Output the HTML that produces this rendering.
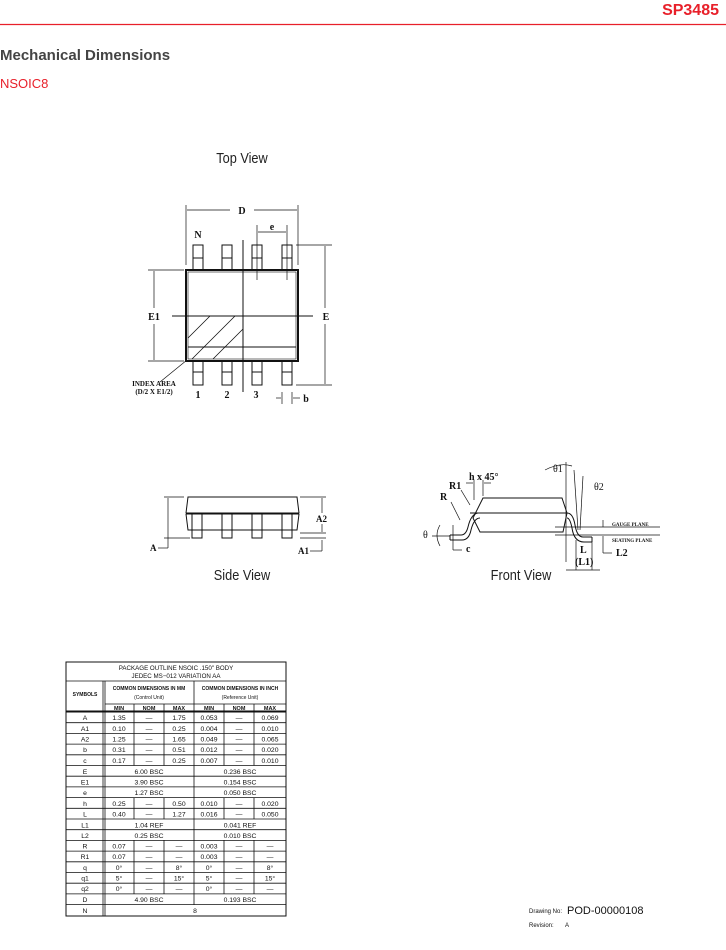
<!DOCTYPE html>
<html><head><meta charset="utf-8"><style>
html,body{margin:0;padding:0;background:#fff;width:726px;height:950px;overflow:hidden}
svg{display:block}
</style></head><body>
<svg width="726" height="950" viewBox="0 0 726 950" xmlns="http://www.w3.org/2000/svg" font-family="Liberation Sans, sans-serif">
<text x="719" y="15" text-anchor="end" font-size="16" font-weight="bold" fill="#e8202a">SP3485</text>
<line x1="0" y1="24.5" x2="726" y2="24.5" stroke="#e8202a" stroke-width="1.2"/>
<text x="0" y="60" font-size="15" font-weight="bold" fill="#444">Mechanical Dimensions</text>
<text x="0" y="88" font-size="13" fill="#e8202a">NSOIC8</text>

<g font-size="15" fill="#222" text-anchor="middle">
<text x="242" y="163" transform="translate(242 0) scale(0.85 1) translate(-242 0)">Top View</text>
<text x="242" y="580" transform="translate(242 0) scale(0.85 1) translate(-242 0)">Side View</text>
<text x="521" y="580" transform="translate(521 0) scale(0.85 1) translate(-521 0)">Front View</text>
</g>

<!-- TOP VIEW -->
<g stroke="#111" stroke-width="1" fill="none">
<rect x="186" y="270" width="112" height="91" stroke-width="2"/>
<rect x="188" y="272" width="108" height="87" stroke-width="0.6"/>
<line x1="188" y1="347" x2="296" y2="347"/>
<line x1="243" y1="240" x2="243" y2="392"/>
<line x1="172" y1="316" x2="313" y2="316"/>
<g stroke-width="0.8">
<line x1="188" y1="338" x2="210" y2="316"/>
<line x1="192" y1="359" x2="235" y2="316"/>
<line x1="213" y1="359" x2="243" y2="329"/>
</g>
<rect x="193" y="245" width="10" height="25"/><line x1="193" y1="258" x2="203" y2="258"/>
<rect x="222" y="245" width="10" height="25"/><line x1="222" y1="258" x2="232" y2="258"/>
<rect x="252" y="245" width="10" height="25"/><line x1="252" y1="258" x2="262" y2="258"/>
<rect x="282" y="245" width="10" height="25"/><line x1="282" y1="258" x2="292" y2="258"/>
<rect x="193" y="361" width="10" height="24"/><line x1="193" y1="372" x2="203" y2="372"/>
<rect x="222" y="361" width="10" height="24"/><line x1="222" y1="372" x2="232" y2="372"/>
<rect x="252" y="361" width="10" height="24"/><line x1="252" y1="372" x2="262" y2="372"/>
<rect x="282" y="361" width="10" height="24"/><line x1="282" y1="372" x2="292" y2="372"/>
<g stroke-width="0.7">
<line x1="186" y1="205" x2="186" y2="265"/><line x1="298" y1="205" x2="298" y2="265"/>
<line x1="187" y1="210" x2="230" y2="210"/><line x1="254" y1="210" x2="297" y2="210"/>
<line x1="257" y1="225" x2="257" y2="280"/><line x1="287" y1="225" x2="287" y2="280"/>
<line x1="258" y1="232" x2="286" y2="232"/>
<line x1="148" y1="270" x2="184" y2="270"/><line x1="148" y1="361" x2="184" y2="361"/>
<line x1="154" y1="271" x2="154" y2="308"/><line x1="154" y1="324" x2="154" y2="360"/>
<line x1="296" y1="245" x2="332" y2="245"/><line x1="296" y1="385" x2="332" y2="385"/>
<line x1="325" y1="246" x2="325" y2="308"/><line x1="325" y1="324" x2="325" y2="384"/>
<line x1="282" y1="392" x2="282" y2="404"/><line x1="292" y1="392" x2="292" y2="404"/>
<line x1="276" y1="398" x2="281" y2="398"/><line x1="293" y1="398" x2="300" y2="398"/>
<line x1="160" y1="382" x2="187" y2="360"/>
</g>
</g>
<g font-family="Liberation Serif, serif" font-weight="bold" font-size="10" fill="#111" text-anchor="middle">
<text x="242" y="214">D</text><text x="272" y="230">e</text><text x="198" y="238">N</text>
<text x="154" y="320">E1</text><text x="326" y="320">E</text>
<text x="198" y="398">1</text><text x="227" y="398">2</text><text x="256" y="398">3</text>
<text x="306" y="402">b</text>
<text x="154" y="386" font-size="7">INDEX AREA</text><text x="154" y="394" font-size="7">(D/2 X E1/2)</text>
</g>

<!-- SIDE VIEW -->
<g stroke="#111" stroke-width="1" fill="none">
<path d="M188 497 L297 497 L299 513 L186 513 Z"/>
<line x1="186" y1="514" x2="299" y2="514"/>
<path d="M186 514 L188 530 L297 530 L299 514"/>
<rect x="192" y="514" width="10" height="24"/><rect x="222" y="514" width="10" height="24"/>
<rect x="252" y="514" width="10" height="24"/><rect x="282" y="514" width="10" height="24"/>
<line x1="192" y1="530" x2="292" y2="530"/>
<g stroke-width="0.7">
<line x1="164" y1="497" x2="184" y2="497"/><line x1="164" y1="538" x2="190" y2="538"/>
<line x1="168" y1="498" x2="168" y2="548"/><line x1="158" y1="548" x2="168" y2="548"/>
<line x1="300" y1="497" x2="326" y2="497"/><line x1="300" y1="533" x2="326" y2="533"/>
<line x1="300" y1="538" x2="326" y2="538"/>
<line x1="322" y1="498" x2="322" y2="513"/><line x1="322" y1="524" x2="322" y2="532"/>
<line x1="322" y1="540" x2="322" y2="551"/><line x1="310" y1="551" x2="322" y2="551"/>
</g>
</g>
<g font-family="Liberation Serif, serif" font-weight="bold" font-size="9" fill="#111">
<text x="150" y="551">A</text><text x="316" y="522">A2</text><text x="298" y="554">A1</text>
</g>

<!-- FRONT VIEW -->
<g stroke="#111" stroke-width="1" fill="none">
<path d="M483 498 L562 498 L567 513 L563 532 L480 532 L473 518 Z"/>
<line x1="470" y1="513" x2="567" y2="513"/>
<path d="M450 535 L461 535 Q466 535 468 527 Q471 514 478 513"/>
<path d="M450 540 L462 540 Q469 540 471 530 Q474 518 480 518"/>
<line x1="450" y1="535" x2="450" y2="540"/>
<path d="M567 513 Q573 513 575 525 Q577 537 583 537 L592 537"/>
<path d="M567 518 Q570 518 572 528 Q574 542 584 542 L592 542"/>
<line x1="592" y1="537" x2="592" y2="542"/>
<g stroke-width="0.7">
<line x1="555" y1="527" x2="660" y2="527"/><line x1="555" y1="535" x2="660" y2="535"/>
<line x1="566" y1="462" x2="566" y2="562"/>
<line x1="574" y1="470" x2="578" y2="530"/><line x1="583" y1="476" x2="580" y2="530"/>
<path d="M545 470 Q560 462 572 466"/>
<line x1="474" y1="480" x2="474" y2="500"/><line x1="483" y1="480" x2="483" y2="496"/>
<line x1="466" y1="483" x2="473" y2="483"/><line x1="484" y1="483" x2="491" y2="483"/>
<line x1="461" y1="490" x2="470" y2="505"/><line x1="451" y1="502" x2="460" y2="520"/>
<line x1="453" y1="525" x2="453" y2="550"/><line x1="453" y1="550" x2="462" y2="550"/>
<path d="M440 525 Q434 535 440 546"/><line x1="432" y1="536" x2="450" y2="536"/>
<line x1="576" y1="540" x2="576" y2="570"/><line x1="592" y1="540" x2="592" y2="570"/>
<line x1="566" y1="570" x2="600" y2="570"/>
<line x1="603" y1="520" x2="603" y2="527"/><line x1="603" y1="536" x2="603" y2="553"/><line x1="603" y1="553" x2="612" y2="553"/>
</g>
</g>
<g font-family="Liberation Serif, serif" font-size="10" fill="#111">
<text x="469" y="480" font-weight="bold">h x 45°</text>
<text x="449" y="489" font-weight="bold">R1</text><text x="440" y="500" font-weight="bold">R</text>
<text x="423" y="538">θ</text><text x="466" y="552" font-weight="bold">c</text>
<text x="553" y="472">θ1</text><text x="594" y="490">θ2</text>
<text x="580" y="553" font-weight="bold">L</text><text x="575" y="565" font-weight="bold">(L1)</text>
<text x="616" y="556" font-weight="bold">L2</text>
<text x="612" y="526" font-size="5" font-weight="bold">GAUGE PLANE</text>
<text x="612" y="542" font-size="5" font-weight="bold">SEATING PLANE</text>
</g>

<!-- TABLE -->
<g stroke="#111" fill="none" stroke-width="0.8">
<rect x="66" y="662" width="220" height="254" stroke-width="1"/>
<line x1="66" y1="681" x2="286" y2="681"/>
<line x1="66" y1="711.5" x2="286" y2="711.5" stroke-width="2"/>
<line x1="103" y1="681" x2="103" y2="916"/><line x1="105" y1="681" x2="105" y2="916"/>
<line x1="194" y1="681" x2="194" y2="904.6"/>
<line x1="105" y1="704" x2="286" y2="704"/>
<path d="M134 704V765.5 M164 704V765.5 M224 704V765.5 M254 704V765.5"/>
<path d="M134 797.6V819 M164 797.6V819 M224 797.6V819 M254 797.6V819"/>
<path d="M134 840.4V893.9 M164 840.4V893.9 M224 840.4V893.9 M254 840.4V893.9"/>
<path d="M66 722.7H286 M66 733.4H286 M66 744.1H286 M66 754.8H286 M66 765.5H286 M66 776.2H286 M66 786.9H286 M66 797.6H286 M66 808.3H286 M66 819H286 M66 829.7H286 M66 840.4H286 M66 851.1H286 M66 861.8H286 M66 872.5H286 M66 883.2H286 M66 893.9H286 M66 904.6H286"/>
</g>
<g font-size="6.2" fill="#111" text-anchor="middle">
<text x="176" y="670">PACKAGE  OUTLINE  NSOIC  .150"  BODY</text>
<text x="176" y="678">JEDEC  MS−012  VARIATION AA</text>
<text x="85" y="696" font-size="5" font-weight="bold">SYMBOLS</text>
<text x="149" y="690" font-size="5" font-weight="bold">COMMON DIMENSIONS IN MM</text>
<text x="149" y="699" font-size="5">(Control Unit)</text>
<text x="240" y="690" font-size="5" font-weight="bold">COMMON DIMENSIONS IN INCH</text>
<text x="240" y="699" font-size="5">(Reference Unit)</text>
<g font-size="5.5" font-weight="bold"><text x="119" y="710">MIN</text><text x="149" y="710">NOM</text><text x="179" y="710">MAX</text><text x="209" y="710">MIN</text><text x="239" y="710">NOM</text><text x="270" y="710">MAX</text></g>
<g font-size="6.8">
<text x="85" y="720">A</text><text x="119" y="720">1.35</text><text x="149" y="720">—</text><text x="179" y="720">1.75</text><text x="209" y="720">0.053</text><text x="239" y="720">—</text><text x="270" y="720">0.069</text>
<text x="85" y="731">A1</text><text x="119" y="731">0.10</text><text x="149" y="731">—</text><text x="179" y="731">0.25</text><text x="209" y="731">0.004</text><text x="239" y="731">—</text><text x="270" y="731">0.010</text>
<text x="85" y="741.5">A2</text><text x="119" y="741.5">1.25</text><text x="149" y="741.5">—</text><text x="179" y="741.5">1.65</text><text x="209" y="741.5">0.049</text><text x="239" y="741.5">—</text><text x="270" y="741.5">0.065</text>
<text x="85" y="752">b</text><text x="119" y="752">0.31</text><text x="149" y="752">—</text><text x="179" y="752">0.51</text><text x="209" y="752">0.012</text><text x="239" y="752">—</text><text x="270" y="752">0.020</text>
<text x="85" y="763">c</text><text x="119" y="763">0.17</text><text x="149" y="763">—</text><text x="179" y="763">0.25</text><text x="209" y="763">0.007</text><text x="239" y="763">—</text><text x="270" y="763">0.010</text>
<text x="85" y="774">E</text><text x="149" y="774">6.00  BSC</text><text x="240" y="774">0.236  BSC</text>
<text x="85" y="784.5">E1</text><text x="149" y="784.5">3.90  BSC</text><text x="240" y="784.5">0.154  BSC</text>
<text x="85" y="795">e</text><text x="149" y="795">1.27  BSC</text><text x="240" y="795">0.050  BSC</text>
<text x="85" y="806">h</text><text x="119" y="806">0.25</text><text x="149" y="806">—</text><text x="179" y="806">0.50</text><text x="209" y="806">0.010</text><text x="239" y="806">—</text><text x="270" y="806">0.020</text>
<text x="85" y="816.5">L</text><text x="119" y="816.5">0.40</text><text x="149" y="816.5">—</text><text x="179" y="816.5">1.27</text><text x="209" y="816.5">0.016</text><text x="239" y="816.5">—</text><text x="270" y="816.5">0.050</text>
<text x="85" y="827.5">L1</text><text x="149" y="827.5">1.04  REF</text><text x="240" y="827.5">0.041  REF</text>
<text x="85" y="838">L2</text><text x="149" y="838">0.25  BSC</text><text x="240" y="838">0.010  BSC</text>
<text x="85" y="848.5">R</text><text x="119" y="848.5">0.07</text><text x="149" y="848.5">—</text><text x="179" y="848.5">—</text><text x="209" y="848.5">0.003</text><text x="239" y="848.5">—</text><text x="270" y="848.5">—</text>
<text x="85" y="859">R1</text><text x="119" y="859">0.07</text><text x="149" y="859">—</text><text x="179" y="859">—</text><text x="209" y="859">0.003</text><text x="239" y="859">—</text><text x="270" y="859">—</text>
<text x="85" y="870">q</text><text x="119" y="870">0°</text><text x="149" y="870">—</text><text x="179" y="870">8°</text><text x="209" y="870">0°</text><text x="239" y="870">—</text><text x="270" y="870">8°</text>
<text x="85" y="880.5">q1</text><text x="119" y="880.5">5°</text><text x="149" y="880.5">—</text><text x="179" y="880.5">15°</text><text x="209" y="880.5">5°</text><text x="239" y="880.5">—</text><text x="270" y="880.5">15°</text>
<text x="85" y="891">q2</text><text x="119" y="891">0°</text><text x="149" y="891">—</text><text x="179" y="891">—</text><text x="209" y="891">0°</text><text x="239" y="891">—</text><text x="270" y="891">—</text>
<text x="85" y="902">D</text><text x="149" y="902">4.90   BSC</text><text x="240" y="902">0.193   BSC</text>
<text x="85" y="913">N</text><text x="195" y="913">8</text>
</g>
</g>

<text x="529" y="913" font-size="6" fill="#111">Drawing No:</text>
<text x="567" y="914" font-size="11" fill="#111">POD-00000108</text>
<text x="529" y="927" font-size="6" fill="#111">Revision:</text>
<text x="565" y="927" font-size="6" fill="#111">A</text>
</svg>
</body></html>
